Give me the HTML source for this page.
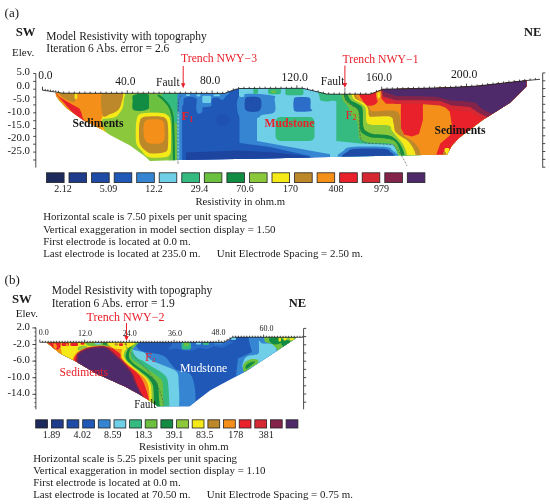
<!DOCTYPE html>
<html><head><meta charset="utf-8"><title>Model Resistivity with topography</title>
<style>
html,body{margin:0;padding:0;background:#fff;}
svg{display:block;font-family:"Liberation Serif","DejaVu Serif",serif;}
</style></head><body>
<svg width="550" height="504" viewBox="0 0 550 504">
<rect width="550" height="504" fill="#fff"/>
<defs><clipPath id="ca"><path d="M55.5,93.0 L59.3,92.6 L62.0,93.2 L110.0,93.3 L178.0,93.3 L224.5,93.4 L230.0,91.3 L235.5,89.3 L240.0,88.5 L302.7,88.3 L314.0,91.0 L326.4,94.0 L332.0,94.2 L370.0,94.2 L376.0,92.0 L382.7,89.2 L420.0,88.4 L450.0,87.5 L477.3,86.0 L504.5,82.9 L526.4,80.5 L526.4,81.0 L526.4,86.4 L510.0,102.7 L482.7,120.0 L459.0,138.0 L452.0,145.5 L447.0,154.6 L400.0,155.6 L330.0,157.0 L250.0,158.8 L180.0,160.0 L150.0,161.0 L144.5,156.0 L130.0,145.5 L110.0,135.0 L102.7,130.0 L84.5,121.0 L75.5,114.8 L66.4,108.2 L58.5,100.0 L56.0,96.0 Z"/></clipPath>
<clipPath id="cb"><path d="M46.8,342.8 L224.5,342.3 L229.0,340.0 L233.6,337.0 L295.5,337.3 L295.5,338.6 L270.0,355.5 L246.4,371.0 L220.0,385.0 L210.0,390.5 L189.5,406.2 L157.5,406.3 L150.3,401.3 L140.0,394.7 L125.4,386.8 L96.0,373.5 L74.2,360.5 L60.2,353.5 Z"/></clipPath></defs>
<g clip-path="url(#ca)">
<rect x="50" y="75" width="130" height="90" fill="#8cc83c"/>
<path d="M50.0,90.0 L104.0,90.0 L103.0,114.0 L102.0,122.0 L106.0,134.0 L80.0,125.0 Z" fill="#f4901a" />
<path d="M110.0,92.0 C112.4,88.7 121.9,90.7 124.2,92.0 C126.5,93.3 124.0,97.5 123.8,100.0 C123.6,102.5 123.6,104.8 122.9,107.0 C122.2,109.2 120.7,111.3 119.5,113.0 C118.3,114.7 117.4,116.1 115.5,117.0 C113.6,117.9 110.2,118.2 108.0,118.6 C105.8,119.0 103.4,118.3 102.3,119.5 C101.2,120.7 101.3,124.2 101.6,126.0 C101.9,127.8 102.9,128.5 104.0,130.0 C105.1,131.5 108.7,134.5 108.0,135.0 C107.3,135.5 101.2,136.0 100.0,133.0 C98.8,130.0 98.8,120.5 100.5,117.0 C102.2,113.5 108.4,116.2 110.0,112.0 C111.6,107.8 107.6,95.3 110.0,92.0 Z" fill="#f5ea18" />
<path d="M96.0,110.0 L103.0,110.0 L102.5,117.6 L101.2,119.3 L100.8,126.0 L103.0,130.5 L96.0,130.0 Z" fill="#f4901a" />
<path d="M102.7,92.0 C105.9,88.1 118.6,90.0 121.7,92.0 C124.8,94.0 121.9,100.9 121.2,104.0 C120.5,107.1 119.4,108.8 117.5,110.5 C115.6,112.2 112.5,113.5 110.0,114.3 C107.5,115.1 103.9,118.9 102.7,115.2 C101.5,111.5 99.5,95.9 102.7,92.0 Z" fill="#bd8829" />
<path d="M59.5,92.0 C61.7,91.1 73.3,90.8 76.0,92.0 C78.7,93.2 75.9,97.3 75.5,99.0 C75.1,100.7 74.7,101.8 73.6,102.0 C72.5,102.2 70.8,101.2 69.0,100.5 C67.2,99.8 64.6,98.9 63.0,97.5 C61.4,96.1 57.3,92.9 59.5,92.0 Z" fill="#bd8829" />
<rect x="74.6" y="93.5" width="2.6" height="5.5" rx="1.0" fill="#f5ea18"/>
<path d="M54.0,91.5 L56.5,93.6 L59.0,96.4 L66.0,101.0 L73.6,105.2 L79.5,108.5 L81.5,113.0 L82.7,118.0 L87.0,123.5 L80.0,121.0 Z" fill="#e8212a" />
<path d="M134.0,95.0 C136.8,94.0 146.8,93.0 149.3,95.0 C151.9,97.0 149.9,104.5 149.3,107.0 C148.8,109.5 147.9,109.3 146.0,110.0 C144.1,110.7 140.2,111.2 138.0,111.0 C135.8,110.8 133.6,110.7 132.7,109.0 C131.8,107.3 132.5,103.3 132.7,101.0 C132.9,98.7 131.2,96.0 134.0,95.0 Z" fill="#128c42" />
<path d="M149.0,94.0 L180.0,94.0 L180.0,165.0 L168.0,165.0 L170.5,150.0 L171.0,125.0 L168.0,116.0 L160.0,112.5 L150.0,112.0 L149.0,107.0 Z" fill="#6cc040" />
<path d="M163.0,94.0 C165.7,93.0 177.2,89.3 180.0,94.0 C182.8,98.7 180.9,117.3 180.0,122.0 C179.1,126.7 175.6,123.7 174.5,122.0 C173.4,120.3 174.4,114.8 173.5,112.0 C172.6,109.2 170.6,107.0 169.0,105.0 C167.4,103.0 165.0,101.8 164.0,100.0 C163.0,98.2 160.3,95.0 163.0,94.0 Z" fill="#35ba80" />
<path d="M158.0,95.0 C158.8,95.7 161.2,97.2 163.0,99.0 C164.8,100.8 167.4,103.2 169.0,106.0 C170.6,108.8 171.8,111.2 172.5,116.0 C173.2,120.8 173.2,127.3 173.5,135.0 C173.8,142.7 173.9,157.5 174.0,162.0" fill="none" stroke="#128c42" stroke-width="2.2"/>
<path d="M137.0,118.0 C138.0,115.2 138.2,114.3 142.0,113.5 C145.8,112.7 155.8,112.8 160.0,113.0 C164.2,113.2 165.2,113.5 167.0,115.0 C168.8,116.5 169.9,116.5 170.6,122.0 C171.3,127.5 171.2,142.5 171.0,148.0 C170.8,153.5 170.7,153.4 169.5,155.0 C168.3,156.6 167.2,156.9 164.0,157.3 C160.8,157.7 153.2,157.9 150.0,157.5 C146.8,157.1 146.4,156.2 145.0,155.0 C143.6,153.8 142.9,152.3 141.5,150.5 C140.1,148.7 137.4,147.4 136.5,144.0 C135.6,140.6 135.7,134.3 135.8,130.0 C135.9,125.7 136.0,120.8 137.0,118.0 Z" fill="#f5ea18" />
<path d="M140.0,121.0 C140.8,118.8 140.7,117.8 144.0,117.0 C147.3,116.2 156.3,116.2 160.0,116.5 C163.7,116.8 164.7,117.4 166.0,119.0 C167.3,120.6 167.7,121.5 168.0,126.0 C168.3,130.5 168.5,141.7 168.0,146.0 C167.5,150.3 167.7,150.8 165.0,152.0 C162.3,153.2 155.2,153.7 152.0,153.5 C148.8,153.3 148.0,152.6 146.0,151.0 C144.0,149.4 141.2,147.5 140.0,144.0 C138.8,140.5 139.0,133.8 139.0,130.0 C139.0,126.2 139.2,123.2 140.0,121.0 Z" fill="#bd8829" />
<path d="M144.0,124.0 C144.6,122.0 144.5,120.8 147.0,120.0 C149.5,119.2 156.2,119.2 159.0,119.5 C161.8,119.8 162.6,120.2 163.5,122.0 C164.4,123.8 164.3,127.3 164.5,130.0 C164.7,132.7 165.1,135.8 164.5,138.0 C163.9,140.2 163.4,142.1 161.0,143.0 C158.6,143.9 152.7,144.1 150.0,143.6 C147.3,143.1 146.1,141.9 145.0,140.0 C143.9,138.1 143.8,134.7 143.6,132.0 C143.4,129.3 143.4,126.0 144.0,124.0 Z" fill="#f4901a" />
<rect x="178" y="80" width="160" height="90" fill="#2058b8"/>
<rect x="177.6" y="80" width="4.5" height="90" fill="#3585d3"/>
<rect x="177.2" y="112" width="2" height="60" fill="#6ecfe6"/>
<path d="M181.0,92.0 C188.5,89.7 218.6,91.2 226.0,92.0 C233.4,92.8 226.2,95.2 225.5,96.5 C224.8,97.8 223.2,99.8 222.0,100.0 C220.8,100.2 219.7,97.7 218.0,97.5 C216.3,97.3 213.2,97.6 212.0,99.0 C210.8,100.4 212.5,104.6 211.0,106.0 C209.5,107.4 204.5,106.5 203.0,107.5 C201.5,108.5 203.0,111.0 202.2,112.0 C201.4,113.0 199.0,114.2 198.0,113.5 C197.0,112.8 196.4,110.4 196.2,108.0 C195.9,105.6 197.5,100.9 196.5,99.0 C195.5,97.1 192.1,96.9 190.0,96.8 C187.9,96.7 185.1,97.3 184.0,98.5 C182.9,99.7 184.0,102.8 183.5,104.0 C183.0,105.2 181.4,108.0 181.0,106.0 C180.6,104.0 173.5,94.3 181.0,92.0 Z" fill="#3585d3" />
<rect x="202.3" y="95.8" width="8.7" height="7.2" rx="1.2" fill="#6ecfe6"/>
<rect x="196.5" y="94.3" width="4.0" height="2.2" rx="1.0" fill="#6ecfe6"/>
<rect x="213.5" y="94.3" width="6.5" height="2.0" rx="1.0" fill="#6ecfe6"/>
<rect x="186.0" y="94.3" width="4.0" height="1.7" rx="0.8" fill="#6ecfe6"/>
<rect x="239.5" y="80" width="100.5" height="90" fill="#3585d3"/>
<ellipse cx="223" cy="120" rx="6.5" ry="5.5" fill="#1e4ba6" opacity="0.45"/>
<path d="M239.0,80.0 L340.0,80.0 L340.0,156.0 L257.0,141.0 L257.0,115.0 L262.0,113.5 L274.0,112.0 L274.5,100.0 L239.0,100.0 Z" fill="#6ecfe6" />
<path d="M240.0,95.5 C245.3,91.8 266.2,94.8 272.0,95.5 C277.8,96.2 274.1,97.2 274.5,100.0 C274.9,102.8 276.6,109.5 274.5,112.0 C272.4,114.5 264.9,114.0 262.0,115.0 C259.1,116.0 260.7,117.5 257.0,118.0 C253.3,118.5 242.8,121.8 240.0,118.0 C237.2,114.2 234.7,99.2 240.0,95.5 Z" fill="#3585d3" />
<path d="M245.0,99.5 C245.4,97.6 245.4,97.4 247.5,97.0 C249.6,96.6 255.2,96.5 257.5,97.0 C259.8,97.5 260.4,98.2 261.0,100.0 C261.6,101.8 261.6,106.1 261.0,108.0 C260.4,109.9 259.6,110.9 257.5,111.5 C255.4,112.1 250.6,112.0 248.5,111.5 C246.4,111.0 245.6,110.5 245.0,108.5 C244.4,106.5 244.6,101.4 245.0,99.5 Z" fill="#1f50ad" />
<rect x="239.3" y="90.5" width="5.0" height="6.5" rx="1.0" fill="#6ecfe6"/>
<path d="M183.5,143.0 L240.0,143.0 L270.0,147.0 L310.0,156.0 L310.0,170.0 L183.5,170.0 Z" fill="#2058b8" />
<path d="M186.0,152.5 L240.0,150.5 L275.0,152.5 L300.0,155.5 L318.0,158.5 L312.0,170.0 L186.0,170.0 Z" fill="#1d449e" />
<rect x="253.3" y="88.0" width="4.7" height="6.0" rx="1.8" fill="#35ba80"/>
<rect x="268.0" y="88.0" width="13.0" height="6.3" rx="2.3" fill="#35ba80"/>
<rect x="271.0" y="90.5" width="5.0" height="2.5" rx="1.0" fill="#6cc040"/>
<rect x="285.3" y="88.0" width="18.2" height="7.3" rx="2.5" fill="#35ba80"/>
<rect x="275.5" y="117.0" width="39.0" height="24.0" rx="5.0" fill="#35ba80"/>
<path d="M319.6,90.0 C322.7,88.8 334.9,88.2 338.0,90.0 C341.1,91.8 338.8,99.2 338.0,101.0 C337.2,102.8 334.7,100.4 333.0,100.5 C331.3,100.6 330.0,101.5 328.0,101.5 C326.0,101.5 322.4,101.2 321.0,100.5 C319.6,99.8 319.8,98.8 319.6,97.0 C319.4,95.2 316.5,91.2 319.6,90.0 Z" fill="#35ba80" />
<path d="M293.8,100.0 C294.2,98.4 293.6,97.8 296.0,97.3 C298.4,96.8 305.6,96.8 308.0,97.3 C310.4,97.8 310.1,98.2 310.5,100.0 C310.9,101.8 310.3,106.2 310.5,108.0 C310.7,109.8 313.9,110.4 311.5,111.0 C309.1,111.6 299.0,112.2 296.0,111.5 C293.0,110.8 293.9,108.9 293.5,107.0 C293.1,105.1 293.4,101.6 293.8,100.0 Z" fill="#2b6dc9" />
<rect x="336.3" y="80" width="200" height="90" fill="#35ba80"/>
<path d="M330.0,143.7 L336.3,141.0 L360.0,143.5 L393.5,144.5 L397.0,152.0 L399.0,165.0 L330.0,165.0 Z" fill="#6ecfe6" />
<path d="M341.0,94.0 C341.4,95.2 342.3,98.8 343.5,101.0 C344.7,103.2 346.9,104.6 348.3,107.2 C349.8,109.8 350.8,114.3 352.2,116.7 C353.6,119.1 355.9,118.8 357.0,121.5 C358.1,124.2 358.1,129.7 358.6,132.6 C359.1,135.5 358.1,137.3 360.0,139.0 C361.9,140.7 364.7,141.8 369.7,142.5 C374.7,143.2 385.8,142.8 390.0,143.5 C394.2,144.2 393.7,145.2 395.0,147.0 C396.3,148.8 397.4,151.5 398.0,154.5 C398.6,157.5 398.4,163.2 398.5,165.0 L560,165.0 L560,70 L341.0,70 Z" fill="#6cc040"/>
<path d="M343.5,94.0 C343.9,95.0 344.6,98.2 345.9,100.0 C347.2,101.8 349.4,103.2 351.4,104.8 C353.4,106.4 356.5,107.6 357.8,109.6 C359.1,111.6 359.0,113.4 359.4,116.7 C359.8,120.0 359.4,126.5 360.2,129.4 C361.0,132.3 362.1,132.9 364.0,134.2 C365.9,135.5 368.0,136.7 371.3,137.4 C374.6,138.1 380.3,137.7 384.0,138.2 C387.7,138.7 391.2,139.2 393.5,140.5 C395.8,141.8 396.8,143.7 398.0,146.0 C399.2,148.3 400.4,151.3 401.0,154.5 C401.6,157.7 401.4,163.2 401.5,165.0 L560,165.0 L560,70 L343.5,70 Z" fill="#128c42"/>
<path d="M347.5,94.0 C348.0,95.0 348.9,98.3 350.6,100.0 C352.3,101.7 355.8,102.5 357.8,104.0 C359.8,105.5 361.6,105.1 362.5,108.8 C363.4,112.5 362.5,122.5 363.3,126.3 C364.1,130.1 365.5,130.5 367.3,131.8 C369.1,133.1 371.1,133.7 374.4,134.2 C377.7,134.7 383.9,134.4 387.1,135.0 C390.3,135.6 391.4,136.0 393.5,137.5 C395.6,139.0 398.2,141.2 400.0,144.0 C401.8,146.8 403.7,151.0 404.5,154.5 C405.3,158.0 404.9,163.2 405.0,165.0 L560,165.0 L560,70 L347.5,70 Z" fill="#8cc83c"/>
<path d="M351.4,94.0 C351.8,94.9 352.1,97.6 353.8,99.3 C355.5,101.0 359.7,102.4 361.7,104.0 C363.7,105.6 364.9,105.9 365.7,108.8 C366.5,111.7 365.6,118.8 366.5,121.5 C367.4,124.2 367.6,124.0 371.3,124.7 C375.0,125.4 385.3,124.5 388.7,125.5 C392.1,126.5 390.6,128.7 391.9,130.5 C393.2,132.3 394.8,134.2 396.7,136.5 C398.6,138.8 401.3,141.0 403.0,144.0 C404.7,147.0 406.2,151.0 407.0,154.5 C407.8,158.0 407.4,163.2 407.5,165.0 L560,165.0 L560,70 L351.4,70 Z" fill="#f5ea18"/>
<path d="M353.8,94.0 C354.1,94.8 353.7,97.0 355.4,98.5 C357.1,100.0 362.0,101.6 364.1,103.3 C366.2,105.0 367.3,106.8 368.1,108.8 C368.9,110.8 368.1,113.9 368.9,115.2 C369.7,116.5 369.3,116.5 372.9,116.7 C376.5,117.0 386.9,115.7 390.3,116.7 C393.7,117.8 392.7,120.6 393.5,123.0 C394.3,125.4 393.9,128.9 395.0,131.0 C396.1,133.1 397.8,134.1 400.0,135.8 C402.2,137.5 405.8,139.0 408.0,141.0 C410.2,143.0 411.8,145.8 413.0,148.0 C414.2,150.2 415.0,151.7 415.5,154.5 C416.0,157.3 415.9,163.2 416.0,165.0 L560,165.0 L560,70 L353.8,70 Z" fill="#bd8829"/>
<path d="M355.4,94.0 C355.9,94.9 356.8,97.8 358.6,99.3 C360.5,100.8 364.6,101.7 366.5,103.3 C368.4,104.9 368.6,107.5 369.7,108.8 C370.8,110.1 369.2,110.9 372.9,111.2 C376.6,111.5 387.6,110.2 391.9,110.5 C396.2,110.8 397.0,111.1 398.5,113.0 C400.0,114.9 400.3,119.2 400.8,122.0 C401.3,124.8 400.8,127.6 401.5,130.0 C402.2,132.4 403.1,134.6 405.0,136.5 C406.9,138.4 410.8,139.6 413.0,141.5 C415.2,143.4 417.2,145.8 418.5,148.0 C419.8,150.2 420.1,151.7 420.5,154.5 C420.9,157.3 420.9,163.2 421.0,165.0 L560,165.0 L560,70 L355.4,70 Z" fill="#f4901a"/>
<path d="M360.0,93.0 C362.4,91.3 374.6,89.8 377.6,91.0 C380.6,92.2 378.4,97.8 378.0,100.0 C377.6,102.2 376.7,103.6 375.0,104.5 C373.3,105.4 370.0,106.2 368.0,105.6 C366.0,105.0 364.3,103.1 363.0,101.0 C361.7,98.9 357.6,94.7 360.0,93.0 Z" fill="#e8212a" />
<path d="M377.0,88.0 L380.0,97.0 L386.0,103.8 L395.0,103.8 L401.0,102.5 L400.8,110.0 L401.0,128.0 L404.0,134.5 L412.0,136.5 L419.0,134.0 L422.9,120.0 L422.9,104.0 L436.0,103.8 L445.0,107.0 L449.8,111.7 L452.2,127.6 L449.8,135.5 L440.3,143.5 L436.3,154.6 L436.0,170.0 L560.0,170.0 L560.0,70.0 L377.0,70.0 Z" fill="#e8212a" />
<path d="M379.0,85.0 L382.0,98.0 L396.0,104.0 L420.0,104.0 L440.0,105.5 L452.0,110.0 L470.0,112.0 L480.0,118.0 L490.0,122.0 L498.0,130.0 L560.0,130.0 L560.0,70.0 L379.0,70.0 Z" fill="#d62832" />
<path d="M379.0,85.0 L383.0,96.5 L396.0,100.3 L420.0,100.2 L440.0,101.0 L452.0,105.5 L470.0,107.0 L479.0,113.0 L489.0,118.0 L500.0,127.0 L560.0,127.0 L560.0,70.0 L379.0,70.0 Z" fill="#85244a" />
<path d="M381.6,85.0 L384.0,92.0 L396.0,96.0 L420.0,96.2 L436.0,96.7 L450.0,100.5 L465.0,101.3 L475.0,102.5 L482.7,109.5 L492.0,114.0 L503.0,116.0 L560.0,116.0 L560.0,70.0 L381.6,70.0 Z" fill="#4f2a6b" />
<path d="M376.3,92.5 C377.0,91.4 379.6,90.1 380.5,90.5 C381.4,90.9 381.5,93.4 381.5,95.0 C381.5,96.6 381.2,99.1 380.5,100.0 C379.8,100.9 378.2,101.0 377.5,100.5 C376.8,100.0 376.5,98.3 376.3,97.0 C376.1,95.7 375.6,93.6 376.3,92.5 Z" fill="#f4901a" />
<rect x="377.6" y="92.5" width="2.2" height="5.5" rx="1.0" fill="#f5ea18"/>
<rect x="444.5" y="148.0" width="5.0" height="8.0" rx="1.5" fill="#f5ea18"/>
<rect x="443.0" y="152.0" width="3.0" height="4.0" rx="1.0" fill="#bd8829"/>
<path d="M341.0,157.5 C332.5,156.2 342.2,152.2 344.0,150.5 C345.8,148.8 345.2,147.6 352.0,147.0 C358.8,146.4 378.3,146.5 385.0,147.0 C391.7,147.5 390.3,148.2 392.0,150.0 C393.7,151.8 403.5,156.8 395.0,158.0 C386.5,159.2 349.5,158.8 341.0,157.5 Z" fill="#3585d3" />
<path d="M345.0,157.5 C337.7,156.4 346.3,152.9 348.0,151.5 C349.7,150.1 349.2,149.2 355.0,148.8 C360.8,148.4 377.2,148.4 383.0,148.8 C388.8,149.2 388.5,150.0 390.0,151.5 C391.5,153.0 399.5,157.0 392.0,158.0 C384.5,159.0 352.3,158.6 345.0,157.5 Z" fill="#1e4ba6" />
</g>
<path d="M181.0,95.5 C180.7,96.1 179.5,97.6 179.0,99.0 C178.5,100.4 178.4,98.8 178.2,104.0 C178.0,109.2 178.0,119.9 178.0,130.0 C178.0,140.1 178.0,158.8 178.0,164.5" fill="none" stroke="#444" stroke-width="0.7" stroke-dasharray="2.2,1.3"/>
<path d="M344.3,95.3 C344.6,96.2 344.7,99.3 346.0,101.0 C347.3,102.7 349.9,104.0 352.0,105.6 C354.1,107.2 357.4,107.0 358.6,110.4 C359.8,113.8 359.0,121.2 359.4,126.0 C359.8,130.8 359.8,136.2 361.0,139.0 C362.2,141.8 362.9,142.2 366.5,143.0 C370.1,143.8 377.9,143.6 382.4,144.0 C386.9,144.4 390.9,144.3 393.5,145.3 C396.1,146.3 396.2,147.6 398.0,150.0 C399.8,152.4 402.5,157.3 404.0,160.0 C405.5,162.7 406.5,165.0 407.0,166.0" fill="none" stroke="#555" stroke-width="0.7" stroke-dasharray="2.2,1.3"/>
<path d="M42.5,86.7 L42.5,90.2 L59.3,92.6 L62.0,93.2 L110.0,93.3 L178.0,93.3 L224.5,93.4 L230.0,91.3 L235.5,89.3 L240.0,88.5 L302.7,88.3 L314.0,91.0 L326.4,94.0 L332.0,94.2 L370.0,94.2 L376.0,92.0 L382.7,89.2 L420.0,88.4 L450.0,87.5 L477.3,86.0 L504.5,82.9 L526.4,80.5 L540.0,79.3" fill="none" stroke="#222" stroke-width="0.85"/>
<path d="M45.2,90.6 v-1.7 M50.5,91.3 v-1.7 M55.7,92.1 v-1.7 M47.8,91.0 v-1.7 M53.1,91.7 v-1.7 M58.4,92.5 v-1.7 M63.7,93.2 v-1.7 M69.0,93.2 v-1.7 M74.3,93.2 v-1.7 M79.6,93.2 v-1.7 M84.9,93.2 v-1.7 M90.2,93.3 v-1.7 M95.5,93.3 v-1.7 M100.8,93.3 v-1.7 M106.1,93.3 v-1.7 M111.4,93.3 v-1.7 M116.7,93.3 v-1.7 M122.0,93.3 v-1.7 M127.3,93.3 v-3.0 M132.6,93.3 v-1.7 M137.9,93.3 v-1.7 M143.2,93.3 v-1.7 M148.5,93.3 v-1.7 M153.8,93.3 v-1.7 M159.1,93.3 v-1.7 M164.4,93.3 v-1.7 M169.7,93.3 v-1.7 M175.0,93.3 v-1.7 M180.3,93.3 v-1.7 M185.6,93.3 v-1.7 M190.9,93.3 v-1.7 M196.2,93.3 v-1.7 M201.5,93.4 v-1.7 M206.8,93.4 v-1.7 M212.1,93.4 v-3.0 M217.4,93.4 v-1.7 M222.7,93.4 v-1.7 M228.0,92.1 v-1.7 M233.3,90.1 v-1.7 M238.6,88.7 v-1.7 M243.9,88.5 v-1.7 M249.2,88.5 v-1.7 M254.5,88.5 v-1.7 M259.8,88.4 v-1.7 M265.1,88.4 v-1.7 M270.4,88.4 v-1.7 M275.7,88.4 v-1.7 M281.0,88.4 v-1.7 M286.3,88.4 v-1.7 M291.6,88.3 v-1.7 M296.9,88.3 v-3.0 M302.2,88.3 v-1.7 M307.5,89.4 v-1.7 M312.8,90.7 v-1.7 M318.1,92.0 v-1.7 M323.4,93.3 v-1.7 M328.7,94.1 v-1.7 M334.0,94.2 v-1.7 M339.3,94.2 v-1.7 M344.6,94.2 v-1.7 M349.9,94.2 v-1.7 M355.2,94.2 v-1.7 M360.5,94.2 v-1.7 M365.8,94.2 v-1.7 M371.1,93.8 v-1.7 M376.4,91.8 v-1.7 M381.7,89.6 v-3.0 M387.0,89.1 v-1.7 M392.3,89.0 v-1.7 M397.6,88.9 v-1.7 M402.9,88.8 v-1.7 M408.2,88.7 v-1.7 M413.5,88.5 v-1.7 M418.8,88.4 v-1.7 M424.1,88.3 v-1.7 M429.4,88.1 v-1.7 M434.7,88.0 v-1.7 M440.0,87.8 v-1.7 M445.3,87.6 v-1.7 M450.6,87.5 v-1.7 M455.9,87.2 v-1.7 M461.2,86.9 v-1.7 M466.5,86.6 v-3.0 M471.8,86.3 v-1.7 M477.1,86.0 v-1.7 M482.4,85.4 v-1.7 M487.7,84.8 v-1.7 M493.0,84.2 v-1.7 M498.3,83.6 v-1.7 M503.6,83.0 v-1.7 M508.9,82.4 v-1.7 M514.2,81.8 v-1.7 M519.5,81.3 v-1.7 M524.8,80.7 v-1.7 M530.1,80.2 v-1.7 M535.4,79.7 v-1.7" stroke="#222" stroke-width="0.8" fill="none"/>
<path d="M35.8,73.5 V167.6 M35.8,73.5 h-2.6 M35.8,81.4 h-2.6 M35.8,89.2 h-2.6 M35.8,97.1 h-2.6 M35.8,104.9 h-2.6 M35.8,112.8 h-2.6 M35.8,120.7 h-2.6 M35.8,128.5 h-2.6 M35.8,136.4 h-2.6 M35.8,144.2 h-2.6 M35.8,152.1 h-2.6 M35.8,160.0 h-2.6" stroke="#2a2a2a" stroke-width="0.85" fill="none"/>
<path d="M542.7,72.9 V167.6 M542.7,72.9 h2.6 M542.7,80.8 h2.6 M542.7,88.6 h2.6 M542.7,96.5 h2.6 M542.7,104.3 h2.6 M542.7,112.2 h2.6 M542.7,120.1 h2.6 M542.7,127.9 h2.6 M542.7,135.8 h2.6 M542.7,143.6 h2.6 M542.7,151.5 h2.6 M542.7,159.4 h2.6 M542.7,167.2 h2.6" stroke="#2a2a2a" stroke-width="0.85" fill="none"/>
<text x="4.6" y="16.5" font-size="13.0" fill="#1a1a1a" >(a)</text>
<text x="15.8" y="35.5" font-size="12.5" fill="#1a1a1a" font-weight="bold" textLength="19.8" lengthAdjust="spacingAndGlyphs" >SW</text>
<text x="524.0" y="35.5" font-size="12.5" fill="#1a1a1a" font-weight="bold" >NE</text>
<text x="46.3" y="39.8" font-size="11.5" fill="#1a1a1a" textLength="160.5" lengthAdjust="spacingAndGlyphs" >Model Resistivity with topography</text>
<text x="46.3" y="51.5" font-size="11.5" fill="#1a1a1a" >Iteration 6 Abs. error = 2.6</text>
<text x="12.0" y="56.4" font-size="11.0" fill="#1a1a1a" >Elev.</text>
<text x="30.0" y="75.4" font-size="10.8" fill="#1a1a1a" text-anchor="end" >5.0</text>
<text x="30.0" y="88.5" font-size="10.8" fill="#1a1a1a" text-anchor="end" >0.0</text>
<text x="30.0" y="101.5" font-size="10.8" fill="#1a1a1a" text-anchor="end" >-5.0</text>
<text x="30.0" y="114.6" font-size="10.8" fill="#1a1a1a" text-anchor="end" >-10.0</text>
<text x="30.0" y="127.7" font-size="10.8" fill="#1a1a1a" text-anchor="end" >-15.0</text>
<text x="30.0" y="140.8" font-size="10.8" fill="#1a1a1a" text-anchor="end" >-20.0</text>
<text x="30.0" y="153.8" font-size="10.8" fill="#1a1a1a" text-anchor="end" >-25.0</text>
<text x="38.2" y="78.5" font-size="11.5" fill="#1a1a1a" >0.0</text>
<text x="115.3" y="85.0" font-size="11.5" fill="#1a1a1a" >40.0</text>
<text x="200.0" y="84.4" font-size="11.5" fill="#1a1a1a" >80.0</text>
<text x="281.5" y="80.5" font-size="11.7" fill="#1a1a1a" >120.0</text>
<text x="366.0" y="80.5" font-size="11.5" fill="#1a1a1a" >160.0</text>
<text x="451.0" y="77.6" font-size="11.7" fill="#1a1a1a" >200.0</text>
<text x="156.0" y="86.3" font-size="11.5" fill="#1a1a1a" textLength="23.6" lengthAdjust="spacingAndGlyphs" >Fault</text>
<text x="320.7" y="84.7" font-size="11.5" fill="#1a1a1a" textLength="23.8" lengthAdjust="spacingAndGlyphs" >Fault</text>
<text x="181.0" y="61.5" font-size="11.8" fill="#e8202a" textLength="76.0" lengthAdjust="spacingAndGlyphs" >Trench NWY−3</text>
<text x="342.5" y="62.5" font-size="11.8" fill="#e8202a" textLength="76.0" lengthAdjust="spacingAndGlyphs" >Trench NWY−1</text>
<path d="M183.2,66.0 V85.3" stroke="#e8202a" stroke-width="1"/><path d="M183.2,88.3 l-2.2,-5 h4.4 z" fill="#e8202a"/>
<path d="M344.9,65.5 V85.0" stroke="#e8202a" stroke-width="1"/><path d="M344.9,88.0 l-2.2,-5 h4.4 z" fill="#e8202a"/>
<path d="M344.9,88 V94" stroke="#444" stroke-width="0.7"/>
<text x="72.5" y="127.3" font-size="11.5" fill="#151515" font-weight="bold" textLength="51.0" lengthAdjust="spacingAndGlyphs" >Sediments</text>
<text x="434.5" y="134.3" font-size="11.5" fill="#151515" font-weight="bold" textLength="51.0" lengthAdjust="spacingAndGlyphs" >Sediments</text>
<text x="264.5" y="127.3" font-size="11.5" fill="#e8202a" font-weight="bold" textLength="50.0" lengthAdjust="spacingAndGlyphs" >Mudstone</text>
<text x="181.5" y="120.2" font-size="12.5" fill="#e8202a" font-weight="bold" >F<tspan font-size="8" dy="1.5">1</tspan></text>
<text x="345.5" y="118.5" font-size="12.5" fill="#e8202a" >F<tspan font-size="8" dy="1.5">2</tspan></text>
<rect x="46.5" y="172.8" width="17.6" height="9.8" fill="#1d2b5c" stroke="#222" stroke-width="0.8"/>
<rect x="69.0" y="172.8" width="17.6" height="9.8" fill="#1f3c8c" stroke="#222" stroke-width="0.8"/>
<rect x="91.6" y="172.8" width="17.6" height="9.8" fill="#1e4ba6" stroke="#222" stroke-width="0.8"/>
<rect x="114.2" y="172.8" width="17.6" height="9.8" fill="#2058b8" stroke="#222" stroke-width="0.8"/>
<rect x="136.7" y="172.8" width="17.6" height="9.8" fill="#3585d3" stroke="#222" stroke-width="0.8"/>
<rect x="159.2" y="172.8" width="17.6" height="9.8" fill="#6ecfe6" stroke="#222" stroke-width="0.8"/>
<rect x="181.8" y="172.8" width="17.6" height="9.8" fill="#35ba80" stroke="#222" stroke-width="0.8"/>
<rect x="204.3" y="172.8" width="17.6" height="9.8" fill="#6cc040" stroke="#222" stroke-width="0.8"/>
<rect x="226.9" y="172.8" width="17.6" height="9.8" fill="#128c42" stroke="#222" stroke-width="0.8"/>
<rect x="249.5" y="172.8" width="17.6" height="9.8" fill="#8cc83c" stroke="#222" stroke-width="0.8"/>
<rect x="272.0" y="172.8" width="17.6" height="9.8" fill="#f5ea18" stroke="#222" stroke-width="0.8"/>
<rect x="294.6" y="172.8" width="17.6" height="9.8" fill="#bd8829" stroke="#222" stroke-width="0.8"/>
<rect x="317.1" y="172.8" width="17.6" height="9.8" fill="#f4901a" stroke="#222" stroke-width="0.8"/>
<rect x="339.7" y="172.8" width="17.6" height="9.8" fill="#e8212a" stroke="#222" stroke-width="0.8"/>
<rect x="362.2" y="172.8" width="17.6" height="9.8" fill="#d62832" stroke="#222" stroke-width="0.8"/>
<rect x="384.8" y="172.8" width="17.6" height="9.8" fill="#85244a" stroke="#222" stroke-width="0.8"/>
<rect x="407.3" y="172.8" width="17.6" height="9.8" fill="#4f2a6b" stroke="#222" stroke-width="0.8"/>
<text x="62.9" y="192.4" font-size="10.0" fill="#1a1a1a" text-anchor="middle" >2.12</text>
<text x="108.4" y="192.4" font-size="10.0" fill="#1a1a1a" text-anchor="middle" >5.09</text>
<text x="153.9" y="192.4" font-size="10.0" fill="#1a1a1a" text-anchor="middle" >12.2</text>
<text x="199.4" y="192.4" font-size="10.0" fill="#1a1a1a" text-anchor="middle" >29.4</text>
<text x="244.9" y="192.4" font-size="10.0" fill="#1a1a1a" text-anchor="middle" >70.6</text>
<text x="290.4" y="192.4" font-size="10.0" fill="#1a1a1a" text-anchor="middle" >170</text>
<text x="335.9" y="192.4" font-size="10.0" fill="#1a1a1a" text-anchor="middle" >408</text>
<text x="381.4" y="192.4" font-size="10.0" fill="#1a1a1a" text-anchor="middle" >979</text>
<text x="195.4" y="205.2" font-size="11.0" fill="#1a1a1a" textLength="89.6" lengthAdjust="spacingAndGlyphs" >Resistivity in ohm.m</text>
<text x="43.2" y="220.4" font-size="10.9" fill="#1a1a1a" xml:space="preserve" style="white-space:pre">Horizontal scale is 7.50 pixels per unit spacing</text>
<text x="43.2" y="232.6" font-size="10.9" fill="#1a1a1a" xml:space="preserve" style="white-space:pre">Vertical exaggeration in model section display = 1.50</text>
<text x="43.2" y="244.7" font-size="10.9" fill="#1a1a1a" xml:space="preserve" style="white-space:pre">First electrode is located at 0.0 m.</text>
<text x="43.2" y="256.9" font-size="10.9" fill="#1a1a1a" xml:space="preserve" style="white-space:pre">Last electrode is located at 235.0 m.      Unit Electrode Spacing = 2.50 m.</text>
<g clip-path="url(#cb)">
<rect x="40" y="330" width="270" height="80" fill="#2058b8"/>
<path d="M247.0,330.0 L249.5,343.0 L252.0,352.0 L246.0,355.0 L238.0,358.5 L236.5,371.0 L236.0,380.0 L300.0,380.0 L300.0,330.0 Z" fill="#3585d3" />
<path d="M259.0,341.0 C259.5,340.2 260.5,343.1 262.0,343.5 C263.5,343.9 265.8,343.1 268.0,343.5 C270.2,343.9 274.3,343.2 275.5,346.0 C276.7,348.8 277.2,357.3 275.0,360.0 C272.8,362.7 265.5,360.8 262.0,362.0 C258.5,363.2 257.2,366.0 254.0,367.0 C250.8,368.0 244.7,369.2 243.0,368.0 C241.3,366.8 243.2,362.0 244.0,360.0 C244.8,358.0 245.7,357.0 248.0,356.0 C250.3,355.0 256.2,355.3 258.0,354.0 C259.8,352.7 258.8,350.2 259.0,348.0 C259.2,345.8 258.5,341.8 259.0,341.0 Z" fill="#6ecfe6" />
<path d="M262.0,330.0 L265.0,342.0 L272.0,344.0 L277.0,349.0 L277.0,362.0 L300.0,362.0 L300.0,330.0 Z" fill="#6cc040" />
<path d="M275.0,330.0 L277.0,341.0 L283.0,343.0 L290.0,346.0 L300.0,352.0 L300.0,330.0 Z" fill="#8cc83c" />
<path d="M270.0,338.0 C272.0,337.4 279.8,337.8 282.0,338.5 C284.2,339.2 284.2,341.0 283.0,342.0 C281.8,343.0 277.2,344.5 275.0,344.5 C272.8,344.5 270.8,343.1 270.0,342.0 C269.2,340.9 268.0,338.6 270.0,338.0 Z" fill="#128c42" />
<path d="M281.0,340.0 C282.2,339.1 288.7,339.8 290.0,341.0 C291.3,342.2 290.2,346.6 289.0,347.5 C287.8,348.4 284.3,347.8 283.0,346.5 C281.7,345.2 279.8,340.9 281.0,340.0 Z" fill="#128c42" />
<rect x="278.5" y="338.0" width="2.5" height="3.5" rx="1.0" fill="#f5ea18"/>
<rect x="283.5" y="337.5" width="3.0" height="3.0" rx="1.0" fill="#f5ea18"/>
<rect x="290.0" y="338.0" width="3.5" height="2.0" rx="1.0" fill="#f5ea18"/>
<path d="M243.6,364.0 C244.6,361.9 247.8,360.2 250.0,359.5 C252.2,358.8 255.7,358.9 257.0,359.5 C258.3,360.1 259.2,361.6 258.0,363.0 C256.8,364.4 252.3,366.5 250.0,368.0 C247.7,369.5 245.1,372.7 244.0,372.0 C242.9,371.3 242.6,366.1 243.6,364.0 Z" fill="#6cc040" />
<path d="M246.0,365.5 C246.8,364.3 249.5,362.6 251.0,362.0 C252.5,361.4 255.2,361.2 255.0,362.0 C254.8,362.8 251.5,365.3 250.0,366.5 C248.5,367.7 246.7,369.2 246.0,369.0 C245.3,368.8 245.2,366.7 246.0,365.5 Z" fill="#128c42" />
<path d="M166.0,341.0 C176.5,340.2 218.7,340.3 229.0,341.0 C239.3,341.7 229.2,343.9 228.0,345.0 C226.8,346.1 224.3,347.2 222.0,347.5 C219.7,347.8 216.5,346.2 214.0,346.5 C211.5,346.8 209.5,348.8 207.0,349.0 C204.5,349.2 201.3,347.8 199.0,348.0 C196.7,348.2 195.5,350.1 193.0,350.5 C190.5,350.9 186.8,350.8 184.0,350.5 C181.2,350.2 178.3,348.7 176.0,348.5 C173.7,348.3 171.7,349.9 170.0,349.5 C168.3,349.1 166.7,347.4 166.0,346.0 C165.3,344.6 155.5,341.8 166.0,341.0 Z" fill="#2a6bc7" />
<rect x="181.5" y="342.0" width="9.5" height="7.5" rx="2.0" fill="#35ba80"/>
<rect x="184.0" y="342.0" width="5.0" height="4.0" rx="1.5" fill="#6cc040"/>
<rect x="140.0" y="342.0" width="29.0" height="3.3" rx="1.5" fill="#35ba80"/>
<rect x="196.0" y="342.0" width="5.0" height="2.5" rx="1.0" fill="#6ecfe6"/>
<rect x="203.0" y="342.0" width="6.0" height="3.0" rx="1.0" fill="#35ba80"/>
<rect x="214.0" y="342.0" width="9.0" height="2.5" rx="1.0" fill="#3585d3"/>
<rect x="231.0" y="337.0" width="5.0" height="3.0" rx="1.0" fill="#6ecfe6"/>
<path d="M137.0,343.0 C137.8,344.3 139.5,349.3 142.0,351.0 C144.5,352.7 148.3,352.2 152.0,353.0 C155.7,353.8 160.8,354.2 164.0,356.0 C167.2,357.8 168.8,361.7 171.0,364.0 C173.2,366.3 173.8,368.3 177.0,370.0 C180.2,371.7 187.1,371.3 190.0,374.0 C192.9,376.7 193.6,382.0 194.5,386.0 C195.4,390.0 195.4,394.3 195.5,398.0 C195.6,401.7 195.1,406.3 195.0,408.0 L195.0,420 L30,420 L30,330 L137.0,330 Z" fill="#3585d3"/>
<path d="M137.0,342.0 C142.6,341.3 164.8,340.8 170.0,342.0 C175.2,343.2 169.7,347.2 168.0,349.0 C166.3,350.8 163.3,352.0 160.0,352.5 C156.7,353.0 151.3,352.4 148.0,352.0 C144.7,351.6 141.9,351.0 140.0,350.0 C138.1,349.0 137.0,347.3 136.5,346.0 C136.0,344.7 131.4,342.7 137.0,342.0 Z" fill="#2058b8" />
<path d="M130.0,349.0 C131.0,349.2 133.5,349.8 136.0,350.5 C138.5,351.2 142.7,351.5 145.0,353.0 C147.3,354.5 147.5,357.7 150.0,359.5 C152.5,361.3 156.7,362.6 160.0,364.0 C163.3,365.4 167.1,366.5 170.0,368.0 C172.9,369.5 176.0,370.0 177.5,373.0 C179.0,376.0 178.5,381.8 178.8,386.0 C179.1,390.2 179.3,394.3 179.3,398.0 C179.3,401.7 179.1,406.3 179.0,408.0 L179.0,420 L30,420 L30,330 L130.0,330 Z" fill="#6ecfe6"/>
<path d="M133.0,343.0 C132.8,344.0 131.5,346.7 132.0,349.0 C132.5,351.3 134.2,355.0 136.1,357.0 C137.9,359.0 140.6,359.4 143.2,361.0 C145.8,362.6 148.7,364.7 151.6,366.5 C154.5,368.3 158.2,370.1 160.8,372.0 C163.3,373.9 165.6,375.3 166.9,378.0 C168.2,380.7 168.2,384.7 168.5,388.0 C168.9,391.3 168.8,394.7 169.0,398.0 C169.2,401.3 169.4,406.3 169.5,408.0 L169.5,420 L30,420 L30,330 L133.0,330 Z" fill="#35ba80"/>
<path d="M138.6,343.0 C137.5,344.2 133.2,347.5 132.0,350.0 C130.8,352.5 130.5,355.8 131.6,358.0 C132.7,360.2 136.0,361.7 138.6,363.5 C141.2,365.3 144.2,367.1 147.1,369.0 C150.0,370.9 153.5,373.0 156.0,375.0 C158.5,377.0 161.0,378.5 162.1,381.0 C163.3,383.5 162.8,387.2 163.0,390.0 C163.2,392.8 163.1,395.0 163.3,398.0 C163.5,401.0 163.9,406.3 164.0,408.0 L164.0,420 L30,420 L30,330 L138.6,330 Z" fill="#6cc040"/>
<path d="M134.5,343.0 C133.8,344.2 130.9,347.5 130.0,350.0 C129.1,352.5 128.4,355.6 129.2,358.0 C130.0,360.4 132.4,362.4 134.8,364.5 C137.1,366.6 140.5,368.4 143.3,370.5 C146.1,372.6 149.5,374.9 151.8,377.0 C154.2,379.1 156.1,380.7 157.2,383.0 C158.3,385.3 158.3,388.5 158.6,391.0 C158.9,393.5 158.8,395.2 159.0,398.0 C159.2,400.8 159.8,406.3 160.0,408.0 L160.0,420 L30,420 L30,330 L134.5,330 Z" fill="#128c42"/>
<path d="M134.0,343.0 C133.0,344.0 129.4,346.5 128.0,349.0 C126.6,351.5 125.1,355.3 125.8,358.0 C126.5,360.7 129.6,362.8 132.0,365.0 C134.5,367.2 137.9,369.3 140.6,371.5 C143.3,373.7 146.3,375.8 148.4,378.0 C150.4,380.2 151.9,382.7 152.7,385.0 C153.6,387.3 153.4,389.8 153.6,392.0 C153.8,394.2 153.7,395.3 153.8,398.0 C153.9,400.7 154.4,406.3 154.5,408.0 L154.5,420 L30,420 L30,330 L134.0,330 Z" fill="#8cc83c"/>
<path d="M134.0,342.0 C132.8,343.1 128.7,346.7 127.0,348.5 C125.3,350.3 124.5,351.4 124.0,353.0 C123.6,354.6 123.3,356.0 124.4,358.0 C125.5,360.0 128.2,362.7 130.7,365.0 C133.1,367.3 136.6,369.8 139.3,372.0 C142.0,374.2 145.0,376.3 146.9,378.5 C148.8,380.7 149.9,382.8 150.7,385.0 C151.4,387.2 151.3,389.8 151.4,392.0 C151.6,394.2 151.5,395.3 151.6,398.0 C151.7,400.7 151.9,406.3 152.0,408.0 L152.0,420 L30,420 L30,330 L134.0,330 Z" fill="#f5ea18"/>
<path d="M123.0,346.5 C122.8,347.4 121.7,350.1 121.5,352.0 C121.4,353.9 121.1,355.9 122.2,358.0 C123.3,360.1 125.6,362.2 128.1,364.5 C130.5,366.8 134.1,369.2 136.8,371.5 C139.5,373.8 142.6,375.8 144.5,378.0 C146.4,380.2 147.4,382.7 148.2,385.0 C148.9,387.3 149.0,389.8 149.2,392.0 C149.4,394.2 149.4,395.3 149.5,398.0 C149.6,400.7 149.9,406.3 150.0,408.0 L150.0,420 L30,420 L30,330 L123.0,330 Z" fill="#f4901a"/>
<path d="M108.0,346.8 C109.0,347.2 111.9,347.1 114.0,349.0 C116.1,350.9 118.4,355.4 120.5,358.0 C122.6,360.6 124.2,362.3 126.6,364.5 C128.9,366.7 132.6,369.1 134.8,371.0 C137.0,372.9 138.4,374.0 139.9,376.0 C141.4,378.0 142.6,380.3 143.8,383.0 C145.0,385.7 146.1,389.2 147.0,392.0 C147.9,394.8 148.5,397.3 149.0,400.0 C149.5,402.7 149.8,406.7 150.0,408.0 L150.0,420 L30,420 L30,330 L108.0,330 Z" fill="#e8212a"/>
<path d="M40.0,340.0 L96.0,340.0 L93.0,346.5 L86.0,348.0 L80.0,351.0 L76.0,355.0 L74.0,359.0 L70.0,362.0 L40.0,362.0 Z" fill="#f5ea18" />
<path d="M44.0,340.0 L61.0,340.0 L60.5,347.5 L58.0,350.0 L55.0,349.5 Z" fill="#e8212a" />
<path d="M53.5,344.0 C53.8,343.4 54.9,343.0 55.5,343.5 C56.1,344.0 57.0,346.1 57.0,347.0 C57.0,347.9 56.0,349.0 55.5,349.0 C55.0,349.0 54.1,347.8 53.8,347.0 C53.5,346.2 53.2,344.6 53.5,344.0 Z" fill="#f4901a" />
<path d="M55.0,349.3 L58.0,350.0 L60.5,347.5 L61.5,351.0 L62.0,355.5 L59.0,353.5 Z" fill="#f4901a" />
<rect x="61.5" y="342.8" width="7.5" height="3.2" rx="1.2" fill="#e8212a"/>
<rect x="70.3" y="342.8" width="7.7" height="3.2" rx="1.2" fill="#e8212a"/>
<rect x="80.5" y="342.6" width="4.0" height="2.2" rx="1.0" fill="#e8212a"/>
<rect x="66.0" y="343.5" width="2.0" height="2.8" rx="0.8" fill="#f4901a"/>
<path d="M78.0,347.5 C78.5,346.8 79.5,346.2 81.0,346.0 C82.5,345.8 86.2,345.5 87.0,346.0 C87.8,346.5 87.0,348.2 86.0,349.0 C85.0,349.8 82.3,350.3 81.0,350.5 C79.7,350.7 78.5,350.5 78.0,350.0 C77.5,349.5 77.5,348.2 78.0,347.5 Z" fill="#8cc83c" />
<path d="M86.5,342.0 C90.2,341.4 106.2,341.3 110.0,342.0 C113.8,342.7 110.7,345.5 109.0,346.3 C107.3,347.1 102.7,346.6 100.0,346.6 C97.3,346.6 95.0,346.5 93.0,346.3 C91.0,346.1 89.1,346.2 88.0,345.5 C86.9,344.8 82.8,342.6 86.5,342.0 Z" fill="#6cc040" />
<rect x="95.0" y="342.6" width="6.0" height="1.8" rx="0.9" fill="#6ecfe6"/>
<rect x="103.0" y="342.8" width="4.0" height="2.0" rx="0.9" fill="#128c42"/>
<path d="M109.0,342.0 C112.7,341.1 130.3,341.2 134.0,342.0 C137.7,342.8 132.3,345.5 131.0,346.5 C129.7,347.5 128.0,347.6 126.0,348.0 C124.0,348.4 121.3,349.1 119.0,349.0 C116.7,348.9 113.7,348.7 112.0,347.5 C110.3,346.3 105.3,342.9 109.0,342.0 Z" fill="#f5ea18" />
<rect x="114.5" y="343.3" width="3.5" height="2.3" rx="1.0" fill="#bd8829"/>
<rect x="119.0" y="343.2" width="4.0" height="2.8" rx="1.0" fill="#e8212a"/>
<rect x="124.5" y="343.3" width="2.5" height="2.0" rx="1.0" fill="#bd8829"/>
<path d="M72.5,361.0 C72.5,359.7 73.1,357.6 74.0,356.0 C74.9,354.4 76.3,352.8 78.0,351.5 C79.7,350.2 81.7,349.2 84.0,348.3 C86.3,347.4 89.3,346.8 92.0,346.3 C94.7,345.8 97.3,345.5 100.0,345.5 C102.7,345.5 106.0,345.7 108.0,346.3 C110.0,346.9 113.3,348.1 112.0,349.0 C110.7,349.9 105.3,350.2 100.0,352.0 C94.7,353.8 84.3,358.0 80.0,360.0 C75.7,362.0 75.2,363.8 74.0,364.0 C72.8,364.2 72.5,362.3 72.5,361.0 Z" fill="#f4901a" />
<path d="M73.8,361.0 C73.8,359.6 74.3,357.9 75.2,356.5 C76.1,355.1 77.4,353.5 79.0,352.3 C80.6,351.1 82.8,350.1 85.0,349.2 C87.2,348.3 89.5,347.7 92.0,347.2 C94.5,346.7 97.4,346.4 100.0,346.4 C102.6,346.4 105.4,346.7 107.7,347.2 C110.0,347.7 111.9,347.7 114.0,349.5 C116.1,351.3 122.6,352.9 120.3,358.0 C118.0,363.1 107.5,378.8 100.0,380.0 C92.5,381.2 79.4,368.2 75.0,365.0 C70.6,361.8 73.8,362.4 73.8,361.0 Z" fill="#e8212a" />
<path d="M76.5,356.5 C76.6,352.7 77.6,353.5 78.7,352.4 C79.7,351.3 81.2,350.5 82.9,349.7 C84.6,348.9 86.0,348.1 88.8,347.5 C91.5,347.0 96.6,346.3 99.6,346.2 C102.6,346.1 104.2,345.7 106.8,347.0 C109.4,348.2 112.1,351.3 114.9,353.8 C117.7,356.2 120.6,358.6 123.5,361.8 C126.3,364.9 130.0,369.1 132.2,372.7 C134.4,376.4 135.2,380.2 136.6,383.5 C138.1,386.8 139.3,389.5 140.9,392.5 C142.5,395.6 146.1,398.8 146.2,401.9 C146.2,405.0 149.1,412.0 141.4,411.1 C133.7,410.2 110.5,402.6 100.0,396.6 C89.5,390.6 82.1,381.9 78.2,375.2 C74.3,368.6 76.4,360.3 76.5,356.5 Z" fill="#85244a" />
<path d="M78.0,357.4 C78.0,353.8 79.0,354.6 80.0,353.5 C81.0,352.4 82.4,351.8 84.0,351.0 C85.6,350.2 86.9,349.5 89.5,349.0 C92.1,348.5 96.8,347.9 99.6,347.8 C102.4,347.7 104.0,347.3 106.3,348.5 C108.7,349.7 111.2,352.7 113.8,355.0 C116.4,357.3 119.0,359.4 121.8,362.4 C124.6,365.3 128.2,369.3 130.4,372.7 C132.6,376.1 133.5,379.8 134.9,383.0 C136.4,386.2 137.6,388.8 139.3,391.8 C140.9,394.8 144.5,398.0 144.6,401.0 C144.8,404.0 147.5,411.0 140.1,410.0 C132.7,409.0 110.0,400.8 100.0,395.0 C90.0,389.2 83.7,381.3 80.0,375.0 C76.3,368.7 78.0,361.0 78.0,357.4 Z" fill="#4f2a6b" />
</g>
<path d="M125.4,343.3 C125.7,344.1 126.3,346.6 127.0,348.0 C127.7,349.4 127.9,349.8 129.8,352.0 C131.7,354.2 135.9,358.3 138.6,361.0 C141.3,363.7 143.6,365.4 146.0,368.3 C148.4,371.2 151.1,375.2 153.3,378.6 C155.5,382.1 157.4,385.3 159.0,389.0 C160.6,392.7 162.1,397.9 162.8,400.6 C163.6,403.4 163.4,404.7 163.5,405.5" fill="none" stroke="#5a5a4a" stroke-width="0.7" stroke-dasharray="2.2,1.3"/>
<path d="M103.0,343.5 C103.8,343.9 106.3,345.0 108.0,346.0 C109.7,347.0 112.2,348.9 113.0,349.5" fill="none" stroke="#5a5a4a" stroke-width="0.6" stroke-dasharray="2,1.3"/>
<path d="M39.8,339.6 L39.8,342.3 L223.6,342.3 L228.0,340.0 L232.7,337.2 L302.7,337.3" fill="none" stroke="#222" stroke-width="0.8"/>
<path d="M42.6,342.3 v-1.5 M45.4,342.3 v-1.5 M48.2,342.3 v-1.5 M51.0,342.3 v-1.5 M53.8,342.3 v-1.5 M56.6,342.3 v-1.5 M59.4,342.3 v-1.5 M62.2,342.3 v-1.5 M65.0,342.3 v-1.5 M67.8,342.3 v-1.5 M70.6,342.3 v-1.5 M73.4,342.3 v-1.5 M76.2,342.3 v-1.5 M79.0,342.3 v-1.5 M81.8,342.3 v-1.5 M84.6,342.3 v-2.6 M87.3,342.3 v-1.5 M90.1,342.3 v-1.5 M92.9,342.3 v-1.5 M95.7,342.3 v-1.5 M98.5,342.3 v-1.5 M101.3,342.3 v-1.5 M104.1,342.3 v-1.5 M106.9,342.3 v-1.5 M109.7,342.3 v-1.5 M112.5,342.3 v-1.5 M115.3,342.3 v-1.5 M118.1,342.3 v-1.5 M120.9,342.3 v-1.5 M123.7,342.3 v-1.5 M126.5,342.3 v-1.5 M129.3,342.3 v-2.6 M132.1,342.3 v-1.5 M134.9,342.3 v-1.5 M137.7,342.3 v-1.5 M140.5,342.3 v-1.5 M143.3,342.3 v-1.5 M146.1,342.3 v-1.5 M148.9,342.3 v-1.5 M151.7,342.3 v-1.5 M154.5,342.3 v-1.5 M157.3,342.3 v-1.5 M160.1,342.3 v-1.5 M162.9,342.3 v-1.5 M165.7,342.3 v-1.5 M168.5,342.3 v-1.5 M171.3,342.3 v-1.5 M174.1,342.3 v-2.6 M176.9,342.3 v-1.5 M179.6,342.3 v-1.5 M182.4,342.3 v-1.5 M185.2,342.3 v-1.5 M188.0,342.3 v-1.5 M190.8,342.3 v-1.5 M193.6,342.3 v-1.5 M196.4,342.3 v-1.5 M199.2,342.3 v-1.5 M202.0,342.3 v-1.5 M204.8,342.3 v-1.5 M207.6,342.3 v-1.5 M210.4,342.3 v-1.5 M213.2,342.3 v-1.5 M216.0,342.3 v-1.5 M218.8,342.3 v-2.6 M221.6,342.3 v-1.5 M224.4,341.9 v-1.5 M227.2,340.4 v-1.5 M230.0,338.8 v-1.5 M232.8,337.2 v-1.5 M235.6,337.2 v-1.5 M238.4,337.2 v-1.5 M241.2,337.2 v-1.5 M244.0,337.2 v-1.5 M246.8,337.2 v-1.5 M249.6,337.2 v-1.5 M252.4,337.2 v-1.5 M255.2,337.2 v-1.5 M258.0,337.2 v-1.5 M260.8,337.2 v-1.5 M263.6,337.2 v-2.6 M266.4,337.2 v-1.5 M269.2,337.3 v-1.5 M272.0,337.3 v-1.5 M274.7,337.3 v-1.5 M277.5,337.3 v-1.5 M280.3,337.3 v-1.5 M283.1,337.3 v-1.5 M285.9,337.3 v-1.5 M288.7,337.3 v-1.5 M291.5,337.3 v-1.5 M294.3,337.3 v-1.5 M297.1,337.3 v-1.5 M299.9,337.3 v-1.5 M302.7,337.3 v-1.5" stroke="#222" stroke-width="0.8" fill="none"/>
<path d="M35.9,327.9 V409.3 M35.9,327.9 h-3.5 M35.9,344.5 h-3.5 M35.9,361.1 h-3.5 M35.9,377.7 h-3.5 M35.9,394.3 h-3.5" stroke="#2a2a2a" stroke-width="0.85" fill="none"/>
<path d="M35.9,327.9 h-1.6 M35.9,332.0 h-1.6 M35.9,336.2 h-1.6 M35.9,340.3 h-1.6 M35.9,344.5 h-1.6 M35.9,348.6 h-1.6 M35.9,352.8 h-1.6 M35.9,356.9 h-1.6 M35.9,361.1 h-1.6 M35.9,365.2 h-1.6 M35.9,369.4 h-1.6 M35.9,373.5 h-1.6 M35.9,377.7 h-1.6 M35.9,381.8 h-1.6 M35.9,386.0 h-1.6 M35.9,390.1 h-1.6 M35.9,394.3 h-1.6 M35.9,398.4 h-1.6 M35.9,402.6 h-1.6 M35.9,406.8 h-1.6" stroke="#333" stroke-width="0.7" fill="none"/>
<path d="M303.6,328.4 V409.3 M303.6,328.4 h2.6 M303.6,336.6 h2.6 M303.6,344.8 h2.6 M303.6,353.0 h2.6 M303.6,361.2 h2.6 M303.6,369.4 h2.6 M303.6,377.6 h2.6 M303.6,385.8 h2.6 M303.6,394.0 h2.6 M303.6,402.2 h2.6" stroke="#2a2a2a" stroke-width="0.85" fill="none"/>
<text x="4.6" y="284.0" font-size="13.0" fill="#1a1a1a" >(b)</text>
<text x="12.0" y="303.2" font-size="12.5" fill="#1a1a1a" font-weight="bold" textLength="19.8" lengthAdjust="spacingAndGlyphs" >SW</text>
<text x="288.7" y="307.3" font-size="12.5" fill="#1a1a1a" font-weight="bold" >NE</text>
<text x="51.7" y="293.8" font-size="11.5" fill="#1a1a1a" textLength="160.5" lengthAdjust="spacingAndGlyphs" >Model Resistivity with topography</text>
<text x="51.7" y="307.0" font-size="11.5" fill="#1a1a1a" >Iteration 6 Abs. error = 1.9</text>
<text x="15.8" y="317.2" font-size="11.0" fill="#1a1a1a" >Elev.</text>
<text x="86.5" y="320.5" font-size="12.0" fill="#e8202a" >Trench NWY−2</text>
<text x="30.0" y="329.9" font-size="10.8" fill="#1a1a1a" text-anchor="end" >2.0</text>
<text x="30.0" y="346.5" font-size="10.8" fill="#1a1a1a" text-anchor="end" >-2.0</text>
<text x="30.0" y="363.1" font-size="10.8" fill="#1a1a1a" text-anchor="end" >-6.0</text>
<text x="30.0" y="379.7" font-size="10.8" fill="#1a1a1a" text-anchor="end" >-10.0</text>
<text x="30.0" y="396.3" font-size="10.8" fill="#1a1a1a" text-anchor="end" >-14.0</text>
<text x="38.8" y="335.4" font-size="8.0" fill="#1a1a1a" >0.0</text>
<text x="78.0" y="335.5" font-size="8.0" fill="#1a1a1a" >12.0</text>
<text x="122.7" y="335.5" font-size="8.0" fill="#1a1a1a" >24.0</text>
<text x="168.0" y="335.5" font-size="8.0" fill="#1a1a1a" >36.0</text>
<text x="211.5" y="335.0" font-size="8.0" fill="#1a1a1a" >48.0</text>
<text x="259.6" y="330.5" font-size="8.0" fill="#1a1a1a" >60.0</text>
<path d="M126.5,323.0 V338.0" stroke="#e8202a" stroke-width="1"/><path d="M126.5,341.0 l-2.2,-5 h4.4 z" fill="#e8202a"/>
<text x="59.6" y="376.3" font-size="12.5" fill="#e8202a" textLength="48.4" lengthAdjust="spacingAndGlyphs" >Sediments</text>
<text x="180.0" y="372.3" font-size="12.5" fill="#fff" textLength="47.3" lengthAdjust="spacingAndGlyphs" >Mudstone</text>
<text x="134.3" y="408.3" font-size="12.5" fill="#1a1a1a" textLength="22.0" lengthAdjust="spacingAndGlyphs" >Fault</text>
<text x="145.0" y="360.5" font-size="12.5" fill="#e8202a" >F<tspan font-size="7" dy="1.5">2</tspan></text>
<rect x="35.7" y="419.8" width="11.8" height="8.2" fill="#1d2b5c" stroke="#222" stroke-width="0.8"/>
<rect x="51.4" y="419.8" width="11.8" height="8.2" fill="#1f3c8c" stroke="#222" stroke-width="0.8"/>
<rect x="67.0" y="419.8" width="11.8" height="8.2" fill="#1e4ba6" stroke="#222" stroke-width="0.8"/>
<rect x="82.7" y="419.8" width="11.8" height="8.2" fill="#2058b8" stroke="#222" stroke-width="0.8"/>
<rect x="98.3" y="419.8" width="11.8" height="8.2" fill="#3585d3" stroke="#222" stroke-width="0.8"/>
<rect x="114.0" y="419.8" width="11.8" height="8.2" fill="#6ecfe6" stroke="#222" stroke-width="0.8"/>
<rect x="129.6" y="419.8" width="11.8" height="8.2" fill="#35ba80" stroke="#222" stroke-width="0.8"/>
<rect x="145.2" y="419.8" width="11.8" height="8.2" fill="#6cc040" stroke="#222" stroke-width="0.8"/>
<rect x="160.9" y="419.8" width="11.8" height="8.2" fill="#128c42" stroke="#222" stroke-width="0.8"/>
<rect x="176.6" y="419.8" width="11.8" height="8.2" fill="#8cc83c" stroke="#222" stroke-width="0.8"/>
<rect x="192.2" y="419.8" width="11.8" height="8.2" fill="#f5ea18" stroke="#222" stroke-width="0.8"/>
<rect x="207.9" y="419.8" width="11.8" height="8.2" fill="#bd8829" stroke="#222" stroke-width="0.8"/>
<rect x="223.5" y="419.8" width="11.8" height="8.2" fill="#f4901a" stroke="#222" stroke-width="0.8"/>
<rect x="239.2" y="419.8" width="11.8" height="8.2" fill="#e8212a" stroke="#222" stroke-width="0.8"/>
<rect x="254.8" y="419.8" width="11.8" height="8.2" fill="#d62832" stroke="#222" stroke-width="0.8"/>
<rect x="270.4" y="419.8" width="11.8" height="8.2" fill="#85244a" stroke="#222" stroke-width="0.8"/>
<rect x="286.1" y="419.8" width="11.8" height="8.2" fill="#4f2a6b" stroke="#222" stroke-width="0.8"/>
<text x="51.4" y="437.6" font-size="10.0" fill="#1a1a1a" text-anchor="middle" >1.89</text>
<text x="82.2" y="437.6" font-size="10.0" fill="#1a1a1a" text-anchor="middle" >4.02</text>
<text x="112.7" y="437.6" font-size="10.0" fill="#1a1a1a" text-anchor="middle" >8.59</text>
<text x="143.6" y="437.6" font-size="10.0" fill="#1a1a1a" text-anchor="middle" >18.3</text>
<text x="174.6" y="437.6" font-size="10.0" fill="#1a1a1a" text-anchor="middle" >39.1</text>
<text x="204.8" y="437.6" font-size="10.0" fill="#1a1a1a" text-anchor="middle" >83.5</text>
<text x="235.7" y="437.6" font-size="10.0" fill="#1a1a1a" text-anchor="middle" >178</text>
<text x="266.2" y="437.6" font-size="10.0" fill="#1a1a1a" text-anchor="middle" >381</text>
<text x="139.0" y="449.5" font-size="11.0" fill="#1a1a1a" textLength="89.6" lengthAdjust="spacingAndGlyphs" >Resistivity in ohm.m</text>
<text x="33.2" y="462.3" font-size="10.9" fill="#1a1a1a" xml:space="preserve" style="white-space:pre">Horizontal scale is 5.25 pixels per unit spacing</text>
<text x="33.2" y="474.3" font-size="10.9" fill="#1a1a1a" xml:space="preserve" style="white-space:pre">Vertical exaggeration in model section display = 1.10</text>
<text x="33.2" y="486.3" font-size="10.9" fill="#1a1a1a" xml:space="preserve" style="white-space:pre">First electrode is located at 0.0 m.</text>
<text x="33.2" y="498.3" font-size="10.9" fill="#1a1a1a" xml:space="preserve" style="white-space:pre">Last electrode is located at 70.50 m.      Unit Electrode Spacing = 0.75 m.</text>
</svg>
</body></html>
